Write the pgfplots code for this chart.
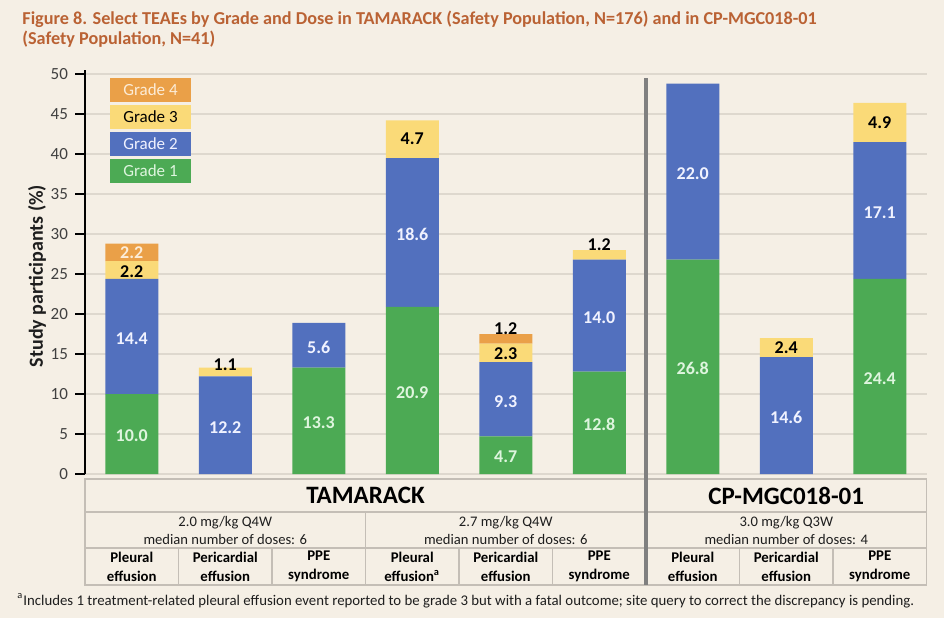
\documentclass[border=0pt]{standalone}
\usepackage{pgfplots}
\pgfplotsset{compat=1.18}
\usepackage{fontspec}
\setmainfont{Carlito}
\definecolor{bg}{RGB}{245,239,229}
\definecolor{gA}{RGB}{76,170,84}
\definecolor{gB}{RGB}{82,112,190}
\definecolor{gC}{RGB}{250,218,120}
\definecolor{gD}{RGB}{234,160,72}
\definecolor{titlec}{RGB}{186,98,52}
\definecolor{gridc}{RGB}{222,216,206}
\definecolor{tblc}{RGB}{196,190,182}
\definecolor{divc}{RGB}{128,128,128}
\definecolor{txtA}{RGB}{222,245,222}
\definecolor{txtB}{RGB}{240,242,255}
\definecolor{txtD}{RGB}{252,236,215}
\definecolor{ink}{RGB}{30,30,30}
\tikzset{
  vl/.style={font=\fontsize{9}{10}\selectfont\bfseries, inner sep=0pt},
  vi/.style={vl, yshift=-1pt},
  tb/.style={draw=tblc, line width=0.8pt},
  dose/.style={font=\fontsize{7.3}{9}\selectfont, text=ink, align=center, inner sep=0pt},
  cat/.style={font=\fontsize{7.4}{9.5}\selectfont\bfseries, text=black, align=center, inner sep=0pt},
  leg/.style={minimum width=40.5pt, minimum height=12pt, inner sep=0pt, font=\fontsize{8.5}{10}\selectfont},
}
\begin{document}
\begin{tikzpicture}
\fill[bg] (0,0) rectangle (472pt,309pt);
\useasboundingbox (0,0) rectangle (472pt,309pt);
\node[anchor=base west, font=\fontsize{9.1}{10}\selectfont\bfseries, text=titlec, inner sep=0pt] at (11pt,297pt) {Figure 8. Select TEAEs by Grade and Dose in TAMARACK (Safety Population, N=176) and in CP-MGC018-01};
\node[anchor=base west, font=\fontsize{9.1}{10}\selectfont\bfseries, text=titlec, inner sep=0pt] at (11pt,287pt) {(Safety Population, N=41)};
\node[rotate=90, font=\fontsize{10}{12}\selectfont\bfseries, text=ink, inner sep=0pt] at (18.5pt,171pt) {Study participants (\%)};
\begin{axis}[
  at={(42.5pt,72pt)}, anchor=south west,
  scale only axis, width=420.75pt, height=202pt,
  xmin=-0.5, xmax=8.5, ymin=0, ymax=50.5,
  ytick={0,5,...,50}, xtick=\empty,
  axis lines*=left,
  x axis line style={draw=none},
  y axis line style={black, line width=1pt},
  ytick style={black, line width=0.8pt},
  major tick length=5pt, tick align=outside,
  yticklabel style={font=\fontsize{8.5}{10}\selectfont, text=ink!85},
  /pgf/number format/assume math mode=true,
  ymajorgrids, grid style={gridc, line width=0.7pt},
  ybar stacked, bar width=26.5pt,
  clip=false,
]
\addplot[fill=gA, draw=none] coordinates {(0,10.0) (1,0) (2,13.3) (3,20.9) (4,4.7) (5,12.8) (6,26.8) (7,0) (8,24.4)};
\addplot[fill=gB, draw=none] coordinates {(0,14.4) (1,12.2) (2,5.6) (3,18.6) (4,9.3) (5,14.0) (6,22.0) (7,14.6) (8,17.1)};
\addplot[fill=gC, draw=none] coordinates {(0,2.2) (1,1.1) (2,0) (3,4.7) (4,2.3) (5,1.2) (6,0) (7,2.4) (8,4.9)};
\addplot[fill=gD, draw=none] coordinates {(0,2.2) (1,0) (2,0) (3,0) (4,1.2) (5,0) (6,0) (7,0) (8,0)};
\coordinate (a1) at (axis cs:0,5.0);
\coordinate (a2) at (axis cs:0,17.2);
\coordinate (a3) at (axis cs:0,25.3);
\coordinate (a4) at (axis cs:0,27.7);
\coordinate (b1) at (axis cs:1,6.1);
\coordinate (b2) at (axis cs:1,13.7);
\coordinate (c1) at (axis cs:2,6.65);
\coordinate (c2) at (axis cs:2,16.1);
\coordinate (d1) at (axis cs:3,10.45);
\coordinate (d2) at (axis cs:3,30.2);
\coordinate (d3) at (axis cs:3,41.85);
\coordinate (e1) at (axis cs:4,2.35);
\coordinate (e2) at (axis cs:4,9.35);
\coordinate (e3) at (axis cs:4,15.0);
\coordinate (e4) at (axis cs:4,18.2);
\coordinate (f1) at (axis cs:5,6.4);
\coordinate (f2) at (axis cs:5,19.8);
\coordinate (f3) at (axis cs:5,28.7);
\coordinate (g1) at (axis cs:6,13.4);
\coordinate (g2) at (axis cs:6,37.8);
\coordinate (h1) at (axis cs:7,7.3);
\coordinate (h2) at (axis cs:7,15.8);
\coordinate (i1) at (axis cs:8,12.2);
\coordinate (i2) at (axis cs:8,32.95);
\coordinate (i3) at (axis cs:8,43.95);
\coordinate (dvT) at (axis cs:5.5,49.5);
\coordinate (dvB) at (axis cs:5.5,-13.875);
\draw[tb] (axis cs:-0.5,-0.625) rectangle (axis cs:8.5,-13.875);
\draw[tb] (axis cs:-0.5,-4.75) -- (axis cs:8.5,-4.75);
\draw[tb] (axis cs:-0.5,-9.25) -- (axis cs:8.5,-9.25);
\draw[tb] (axis cs:2.5,-4.75) -- (axis cs:2.5,-13.875);
\draw[tb] (axis cs:0.5,-9.25) -- (axis cs:0.5,-13.875);
\draw[tb] (axis cs:1.5,-9.25) -- (axis cs:1.5,-13.875);
\draw[tb] (axis cs:3.5,-9.25) -- (axis cs:3.5,-13.875);
\draw[tb] (axis cs:4.5,-9.25) -- (axis cs:4.5,-13.875);
\draw[tb] (axis cs:6.5,-9.25) -- (axis cs:6.5,-13.875);
\draw[tb] (axis cs:7.5,-9.25) -- (axis cs:7.5,-13.875);
\node[font=\fontsize{12.5}{14}\selectfont\bfseries, text=black] at (axis cs:2.5,-2.69) {TAMARACK};
\node[font=\fontsize{12.5}{14}\selectfont\bfseries, text=black] at (axis cs:7,-2.69) {CP-MGC018-01};
\node[dose] at (axis cs:1,-7.0) {2.0 mg/kg Q4W\\median number of doses: 6};
\node[dose] at (axis cs:4,-7.0) {2.7 mg/kg Q4W\\median number of doses: 6};
\node[dose] at (axis cs:7,-7.0) {3.0 mg/kg Q3W\\median number of doses: 4};
\node[cat] at (axis cs:0,-11.56) {Pleural\\effusion};
\node[cat] at (axis cs:1,-11.56) {Pericardial\\effusion};
\node[cat] at (axis cs:2,-11.56) {PPE\\syndrome};
\node[cat] at (axis cs:3,-11.56) {Pleural\\effusion\textsuperscript{a}};
\node[cat] at (axis cs:4,-11.56) {Pericardial\\effusion};
\node[cat] at (axis cs:5,-11.56) {PPE\\syndrome};
\node[cat] at (axis cs:6,-11.56) {Pleural\\effusion};
\node[cat] at (axis cs:7,-11.56) {Pericardial\\effusion};
\node[cat] at (axis cs:8,-11.56) {PPE\\syndrome};
\end{axis}
\draw[draw=divc, line width=2pt] (dvT) -- (dvB);
\node[vi, text=txtA] at (a1) {10.0};
\node[vi, text=txtB] at (a2) {14.4};
\node[vl, text=black] at (a3) {2.2};
\node[vl, text=txtD] at (a4) {2.2};
\node[vi, text=txtB] at (b1) {12.2};
\node[vl, text=black] at (b2) {1.1};
\node[vi, text=txtA] at (c1) {13.3};
\node[vi, text=txtB] at (c2) {5.6};
\node[vi, text=txtA] at (d1) {20.9};
\node[vi, text=txtB] at (d2) {18.6};
\node[vl, text=black] at (d3) {4.7};
\node[vi, text=txtA] at (e1) {4.7};
\node[vi, text=txtB] at (e2) {9.3};
\node[vl, text=black] at (e3) {2.3};
\node[vl, text=black] at (e4) {1.2};
\node[vi, text=txtA] at (f1) {12.8};
\node[vi, text=txtB] at (f2) {14.0};
\node[vl, text=black] at (f3) {1.2};
\node[vi, text=txtA] at (g1) {26.8};
\node[vi, text=txtB] at (g2) {22.0};
\node[vi, text=txtB] at (h1) {14.6};
\node[vl, text=black] at (h2) {2.4};
\node[vi, text=txtA] at (i1) {24.4};
\node[vi, text=txtB] at (i2) {17.1};
\node[vl, text=black] at (i3) {4.9};
\node[leg, fill=gD, text=txtD] at (75.25pt,264pt) {Grade 4};
\node[leg, fill=gC, text=black] at (75.25pt,250.75pt) {Grade 3};
\node[leg, fill=gB, text=txtB] at (75.25pt,237.25pt) {Grade 2};
\node[leg, fill=gA, text=txtA] at (75.25pt,223.75pt) {Grade 1};
\node[anchor=base west, font=\fontsize{7.4}{9}\selectfont, text=ink, inner sep=0pt] at (8.5pt,6.5pt) {\textsuperscript{a}Includes 1 treatment-related pleural effusion event reported to be grade 3 but with a fatal outcome; site query to correct the discrepancy is pending.};
\end{tikzpicture}
\end{document}
